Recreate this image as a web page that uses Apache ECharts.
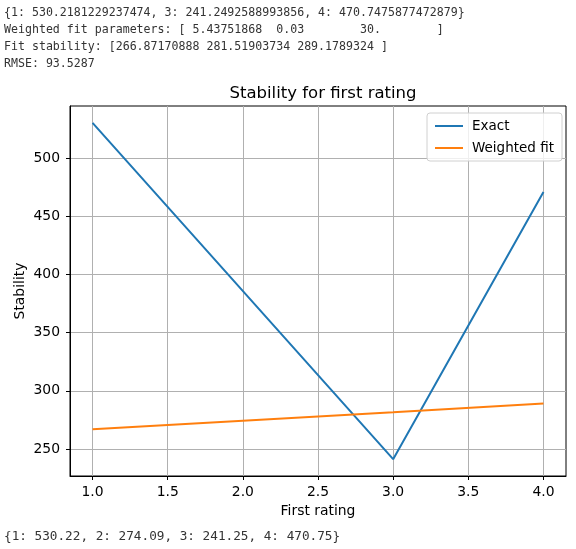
<!DOCTYPE html>
<html style="height: 100%">
<head>
<meta charset="utf-8">
<script type="text/javascript" src="https://cdn.jsdelivr.net/npm/echarts@6/dist/echarts.min.js"></script>
</head>
<body style="height: 100%; margin: 0; background: #fff">
	<div id="container" style="width: 576px; height: 549px"></div>
	<script type="text/javascript">
		// ratings that have data, and the stability for each
		var ratings = [1, 3, 4];
		var exactStability = [530.2181229237474, 241.2492588993856, 470.7475877472879];
		var fitStability = [266.87170888, 281.51903734, 289.1789324];
		// rounded table printed under the plot
		var allRatings = [1, 2, 3, 4];
		var roundedStability = [530.22, 274.09, 241.25, 470.75];
		var xTicks = [1.0, 1.5, 2.0, 2.5, 3.0, 3.5, 4.0];
		var yTicks = [250, 300, 350, 400, 450, 500];

		var topLines = [
			'{1: 530.2181229237474, 3: 241.2492588993856, 4: 470.7475877472879}',
			'Weighted fit parameters: [ 5.43751868  0.03        30.        ]',
			'Fit stability: [266.87170888 281.51903734 289.1789324 ]',
			'RMSE: 93.5287'
		];
		var bottomLine = '{' + allRatings.map(function (r, i) {
			return r + ': ' + roundedStability[i].toFixed(2);
		}).join(', ') + '}';

		function pairs(xs, ys) {
			var out = [];
			for (var i = 0; i < xs.length; i++) {
				out.push([xs[i], ys[i]]);
			}
			return out;
		}

		var graphics = [];
		for (var i = 0; i < topLines.length; i++) {
			graphics.push({
				type: 'text', left: 4, top: 7 + i * 17,
				style: { text: topLines[i], fontFamily: 'DejaVu Sans Mono', fontSize: 11.6, fill: '#333' }
			});
		}
		graphics.push({
			type: 'text', left: 4, top: 530,
			style: { text: bottomLine, fontFamily: 'DejaVu Sans Mono', fontSize: 12.7, fill: '#333' }
		});

		var myChart = echarts.init(document.getElementById('container'));
		var font = 'DejaVu Sans';
		var option = {
			animation: false,
			backgroundColor: '#fff',
			title: {
				text: 'Stability for first rating',
				left: 318, top: 80, textAlign: 'center',
				textStyle: { fontFamily: font, fontSize: 16.5, fontWeight: 'normal', color: '#000' }
			},
			legend: {
				orient: 'vertical',
				right: 14, top: 113,
				padding: [6, 8, 6, 8],
				itemGap: 8,
				itemWidth: 28, itemHeight: 2,
				icon: 'rect',
				borderColor: '#d0d0d0', borderWidth: 1, borderRadius: 3,
				backgroundColor: 'rgba(255,255,255,0.8)',
				textStyle: { fontFamily: font, fontSize: 13.5, color: '#000', padding: [0, 0, 0, 4] },
				data: ['Exact', 'Weighted fit']
			},
			grid: {
				left: 70, right: 10, top: 106, bottom: 73,
				show: true, borderColor: '#000', borderWidth: 1
			},
			xAxis: {
				type: 'value', min: 0.85, max: 4.15,
				name: 'First rating', nameLocation: 'middle', nameGap: 28,
				nameTextStyle: { fontFamily: font, fontSize: 13.9, color: '#000' },
				axisLine: { show: true, onZero: false, lineStyle: { color: '#000' } },
				axisTick: { show: true, length: 4, customValues: xTicks, lineStyle: { color: '#000' } },
				axisLabel: {
					customValues: xTicks, margin: 9,
					fontFamily: font, fontSize: 13.9, color: '#000',
					formatter: function (v) { return v.toFixed(1); }
				},
				splitLine: { show: true, lineStyle: { color: '#b0b0b0', width: 1 } }
			},
			yAxis: {
				type: 'value', min: 226.8, max: 544.7,
				name: 'Stability', nameLocation: 'middle', nameGap: 43,
				nameMoveOverlap: false,
				nameTextStyle: { fontFamily: font, fontSize: 13.9, color: '#000' },
				axisLine: { show: true, onZero: false, lineStyle: { color: '#000' } },
				axisTick: { show: true, length: 4, customValues: yTicks, lineStyle: { color: '#000' } },
				axisLabel: {
					customValues: yTicks, margin: 10,
					fontFamily: font, fontSize: 13.9, color: '#000'
				},
				splitLine: { show: true, lineStyle: { color: '#b0b0b0', width: 1 } }
			},
			graphic: graphics,
			series: [{
				name: 'Exact', type: 'line',
				data: pairs(ratings, exactStability),
				symbol: 'none', color: '#1f77b4',
				lineStyle: { width: 2 }
			}, {
				name: 'Weighted fit', type: 'line',
				data: pairs(ratings, fitStability),
				symbol: 'none', color: '#ff7f0e',
				lineStyle: { width: 2 }
			}]
		};
		myChart.setOption(option);
	</script>
</body>
</html>
